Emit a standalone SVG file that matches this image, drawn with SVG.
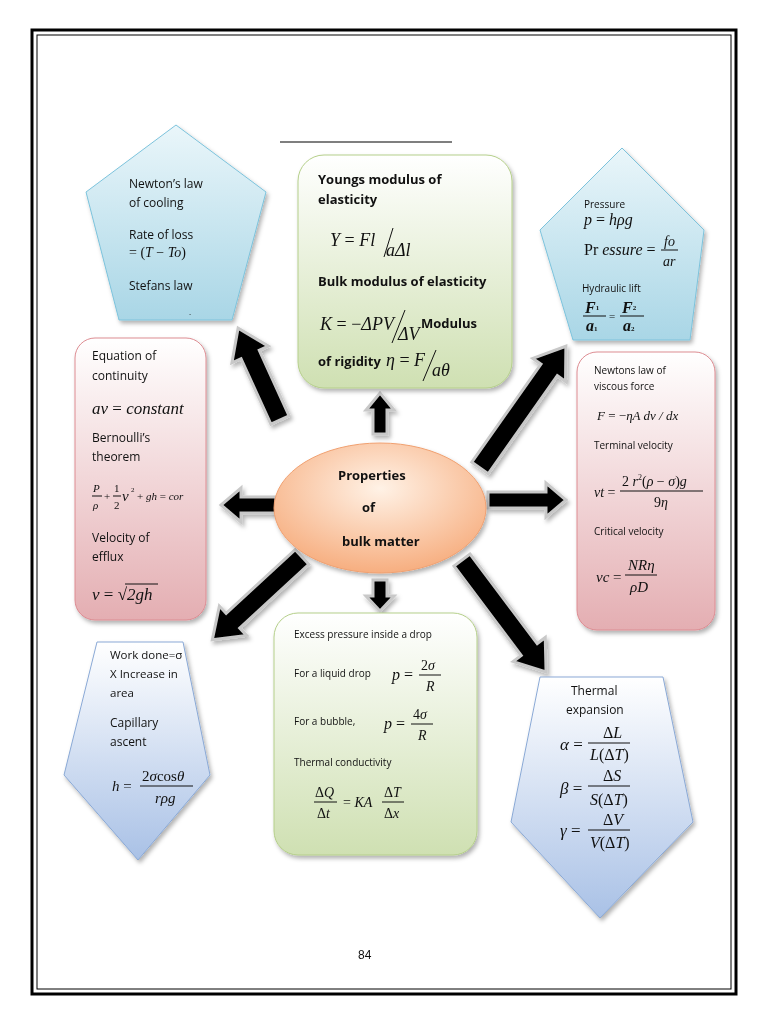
<svg xmlns="http://www.w3.org/2000/svg" width="768" height="1024" viewBox="0 0 768 1024">
<defs>
<linearGradient id="gb" x1="0" y1="0" x2="0" y2="1"><stop offset="0" stop-color="#eaf6fa"/><stop offset="1" stop-color="#a9d6e6"/></linearGradient>
<linearGradient id="gb2" x1="0" y1="0" x2="0" y2="1"><stop offset="0" stop-color="#ffffff"/><stop offset="1" stop-color="#a9c1e6"/></linearGradient>
<linearGradient id="gg" x1="0" y1="0" x2="0" y2="1"><stop offset="0" stop-color="#ffffff"/><stop offset="1" stop-color="#cfe0b2"/></linearGradient>
<linearGradient id="gp" x1="0" y1="0" x2="0" y2="1"><stop offset="0" stop-color="#ffffff"/><stop offset="1" stop-color="#e4aeb2"/></linearGradient>
<radialGradient id="go" cx="0.5" cy="0.35" r="0.7"><stop offset="0" stop-color="#fff2e6"/><stop offset="1" stop-color="#f6a978"/></radialGradient>
<filter id="sh" x="-10%" y="-10%" width="130%" height="130%"><feDropShadow dx="2" dy="3" stdDeviation="2" flood-color="#000" flood-opacity="0.3"/></filter>
</defs>
<style>
text{font-family:"Open Sans","DejaVu Sans",sans-serif;font-size:12px;fill:#111}
.b{font-weight:bold;font-size:13px}
.m{font-family:"Liberation Serif",serif;font-style:italic;font-size:16px}
.mn{font-family:"Liberation Serif",serif;font-size:16px}
.s{font-size:10px}
.arr{fill:#000;stroke:#c8c8c8;stroke-width:3;stroke-linejoin:miter}
.fl{stroke:#111;stroke-width:1}
</style>
<rect x="32" y="30" width="704" height="964" fill="none" stroke="#000" stroke-width="3"/>
<rect x="37" y="35" width="694" height="954" fill="none" stroke="#000" stroke-width="1"/>
<line x1="280" y1="142" x2="452" y2="142" stroke="#000" stroke-width="1.2"/>

<g id="connectors" filter="url(#sh)">
<path class="arr" transform="translate(280,420) rotate(-114.5)" d="M0,-10 L72,-10 L72,-20 L101,0 L72,20 L72,10 L0,10Z"/>
<path class="arr" transform="translate(380,434) rotate(-90)" d="M0,-7 L24,-7 L24,-14 L41,0 L24,14 L24,7 L0,7Z"/>
<path class="arr" transform="translate(480,468) rotate(-54.8)" d="M0,-10 L120,-10 L120,-20 L149,0 L120,20 L120,10 L0,10Z"/>
<path class="arr" transform="translate(276,505) rotate(180)" d="M0,-8 L35,-8 L35,-17 L55,0 L35,17 L35,8 L0,8Z"/>
<path class="arr" transform="translate(488,500) rotate(0)" d="M0,-8 L58,-8 L58,-17 L78,0 L58,17 L58,8 L0,8Z"/>
<path class="arr" transform="translate(302,557) rotate(137.3)" d="M0,-10 L94,-10 L94,-20 L122,0 L94,20 L94,10 L0,10Z"/>
<path class="arr" transform="translate(380,580) rotate(90)" d="M0,-7 L16,-7 L16,-14 L31,0 L16,14 L16,7 L0,7Z"/>
<path class="arr" transform="translate(462,560) rotate(53.1)" d="M0,-10 L112,-10 L112,-20 L140,0 L112,20 L112,10 L0,10Z"/>
</g>

<g id="center">
<ellipse cx="380" cy="508" rx="106" ry="65" fill="url(#go)" stroke="#f0a070" filter="url(#sh)"/>
<text class="b" x="338" y="480">Properties</text>
<text class="b" x="362" y="512">of</text>
<text class="b" x="342" y="546">bulk matter</text>
</g>

<g id="cooling">
<polygon points="176,125 266,192 232,320 119,320 86,192" fill="url(#gb)" stroke="#7cc3dc" filter="url(#sh)"/>
<text x="129" y="188">Newton’s law</text>
<text x="129" y="207">of cooling</text>
<text x="129" y="239">Rate of loss</text>
<text class="mn" x="129" y="257" style="font-size:14px">= (<tspan font-style="italic">T</tspan> − <tspan font-style="italic">To</tspan>)</text>
<text x="129" y="290">Stefans law</text>
<text x="189" y="315" style="font-size:8px">.</text>
</g>

<g id="elasticity">
<rect x="298" y="155" width="214" height="233" rx="26" fill="url(#gg)" stroke="#b5cf8a" filter="url(#sh)"/>
<text class="b" x="318" y="184">Youngs modulus of</text>
<text class="b" x="318" y="204">elasticity</text>
<text class="m" x="330" y="246" style="font-size:18px">Y <tspan font-style="normal">=</tspan> Fl</text>
<line x1="384" y1="257" x2="393" y2="228" class="fl"/>
<text class="m" x="386" y="256" style="font-size:18px">aΔl</text>
<text class="b" x="318" y="286">Bulk modulus of elasticity</text>
<text class="m" x="320" y="330" style="font-size:18px">K <tspan font-style="normal">= −</tspan>ΔPV</text>
<line x1="392" y1="343" x2="405" y2="310" class="fl"/>
<text class="m" x="398" y="340" style="font-size:18px">ΔV</text>
<text class="b" x="421" y="328">Modulus</text>
<text class="b" x="318" y="366">of rigidity</text>
<text class="m" x="386" y="366" style="font-size:18px">η <tspan font-style="normal">=</tspan> F</text>
<line x1="423" y1="381" x2="436" y2="350" class="fl"/>
<text class="m" x="432" y="376" style="font-size:18px">aθ</text>
</g>

<g id="pressure">
<polygon points="622,148 704,230 690,340 573,340 540,230" fill="url(#gb)" stroke="#7cc3dc" filter="url(#sh)"/>
<text class="s" x="584" y="208">Pressure</text>
<text class="m" x="584" y="225">p <tspan font-style="normal">=</tspan> hρg</text>
<text class="mn" x="584" y="255">Pr <tspan font-style="italic">essure</tspan> =</text>
<text class="m" x="664" y="246" style="font-size:14px">fo</text>
<line x1="661" y1="250" x2="678" y2="250" class="fl"/>
<text class="m" x="663" y="266" style="font-size:14px">ar</text>
<text class="s" x="582" y="292">Hydraulic lift</text>
<text class="m" x="585" y="313" style="font-weight:bold">F<tspan font-size="7" font-style="normal" dy="-3">1</tspan></text>
<line x1="583" y1="316" x2="606" y2="316" class="fl"/>
<text class="m" x="586" y="331" style="font-weight:bold">a<tspan font-size="7" font-style="normal">1</tspan></text>
<text class="mn" x="609" y="320" style="font-size:11px">=</text>
<text class="m" x="622" y="313" style="font-weight:bold">F<tspan font-size="7" font-style="normal" dy="-3">2</tspan></text>
<line x1="620" y1="316" x2="644" y2="316" class="fl"/>
<text class="m" x="623" y="331" style="font-weight:bold">a<tspan font-size="7" font-style="normal">2</tspan></text>
</g>

<g id="fluids">
<rect x="75" y="338" width="131" height="282" rx="20" fill="url(#gp)" stroke="#dd8c92" filter="url(#sh)"/>
<text x="92" y="360">Equation of</text>
<text x="92" y="380">continuity</text>
<text class="m" x="92" y="414" style="font-size:17px">av <tspan font-style="normal">=</tspan> constant</text>
<text x="92" y="442">Bernoulli’s</text>
<text x="92" y="461">theorem</text>
<text class="m" x="93" y="492" style="font-size:11px">P</text>
<line x1="92" y1="496" x2="102" y2="496" class="fl"/>
<text class="m" x="93" y="509" style="font-size:11px">ρ</text>
<text class="mn" x="104" y="500" style="font-size:11px">+</text>
<text class="mn" x="114" y="492" style="font-size:11px">1</text>
<line x1="113" y1="496" x2="121" y2="496" class="fl"/>
<text class="mn" x="114" y="509" style="font-size:11px">2</text>
<text class="m" x="122" y="501" style="font-size:15px">v</text>
<text class="mn" x="131" y="492" style="font-size:7px">2</text>
<text class="m" x="137" y="500" style="font-size:11px"><tspan font-style="normal">+</tspan> gh <tspan font-style="normal">=</tspan> cor</text>
<text x="92" y="542">Velocity of</text>
<text x="92" y="561">efflux</text>
<text class="m" x="92" y="600" style="font-size:17px">v <tspan font-style="normal">= √</tspan>2gh</text>
<line x1="125" y1="584" x2="158" y2="584" class="fl"/>
</g>

<g id="viscosity">
<rect x="577" y="352" width="138" height="278" rx="20" fill="url(#gp)" stroke="#dd8c92" filter="url(#sh)"/>
<text class="s" x="594" y="374">Newtons law of</text>
<text class="s" x="594" y="390">viscous force</text>
<text class="m" x="597" y="420" style="font-size:13px">F <tspan font-style="normal">= −</tspan>ηA dv / dx</text>
<text class="s" x="594" y="449">Terminal velocity</text>
<text class="m" x="594" y="497" style="font-size:14px">vt <tspan font-style="normal">=</tspan></text>
<text class="m" x="622" y="486" style="font-size:14px"><tspan font-style="normal">2</tspan> r<tspan font-size="8" font-style="normal" dy="-6">2</tspan><tspan dy="6" font-style="normal">(</tspan>ρ <tspan font-style="normal">−</tspan> σ<tspan font-style="normal">)</tspan>g</text>
<line x1="620" y1="491" x2="703" y2="491" class="fl"/>
<text class="m" x="654" y="507" style="font-size:14px"><tspan font-style="normal">9</tspan>η</text>
<text class="s" x="594" y="535">Critical velocity</text>
<text class="m" x="596" y="582" style="font-size:15px">vc <tspan font-style="normal">=</tspan></text>
<text class="m" x="628" y="570" style="font-size:15px">NRη</text>
<line x1="625" y1="575" x2="657" y2="575" class="fl"/>
<text class="m" x="630" y="592" style="font-size:15px">ρD</text>
</g>

<g id="surface">
<polygon points="97,642 183,642 210,775 138,860 64,775" fill="url(#gb2)" stroke="#8aa9d6" filter="url(#sh)"/>
<text x="110" y="659" style="font-size:11.5px">Work done=σ</text>
<text x="110" y="678" style="font-size:11.5px">X  Increase in</text>
<text x="110" y="697" style="font-size:11.5px">area</text>
<text x="110" y="727">Capillary</text>
<text x="110" y="746">ascent</text>
<text class="m" x="112" y="791" style="font-size:15px">h <tspan font-style="normal">=</tspan></text>
<text class="mn" x="142" y="781" style="font-size:15px">2<tspan font-style="italic">σ</tspan>cos<tspan font-style="italic">θ</tspan></text>
<line x1="140" y1="786" x2="193" y2="786" class="fl"/>
<text class="m" x="155" y="803" style="font-size:15px">rρg</text>
</g>

<g id="drops">
<rect x="274" y="613" width="203" height="242" rx="24" fill="url(#gg)" stroke="#b5cf8a" filter="url(#sh)"/>
<text class="s" x="294" y="638">Excess pressure inside a drop</text>
<text class="s" x="294" y="677">For a liquid drop</text>
<text class="m" x="392" y="680">p <tspan font-style="normal">=</tspan></text>
<text class="m" x="421" y="670" style="font-size:14px"><tspan font-style="normal">2</tspan>σ</text>
<line x1="419" y1="675" x2="441" y2="675" class="fl"/>
<text class="m" x="426" y="691" style="font-size:14px">R</text>
<text class="s" x="294" y="725">For a bubble,</text>
<text class="m" x="384" y="729">p <tspan font-style="normal">=</tspan></text>
<text class="m" x="413" y="719" style="font-size:14px"><tspan font-style="normal">4</tspan>σ</text>
<line x1="411" y1="724" x2="433" y2="724" class="fl"/>
<text class="m" x="418" y="740" style="font-size:14px">R</text>
<text class="s" x="294" y="766">Thermal conductivity</text>
<text class="mn" x="315" y="797" style="font-size:14px">Δ<tspan font-style="italic">Q</tspan></text>
<line x1="314" y1="802" x2="337" y2="802" class="fl"/>
<text class="mn" x="317" y="818" style="font-size:14px">Δ<tspan font-style="italic">t</tspan></text>
<text class="m" x="343" y="807" style="font-size:14px"><tspan font-style="normal">=</tspan> KA</text>
<text class="mn" x="384" y="797" style="font-size:14px">Δ<tspan font-style="italic">T</tspan></text>
<line x1="382" y1="802" x2="404" y2="802" class="fl"/>
<text class="mn" x="384" y="818" style="font-size:14px">Δ<tspan font-style="italic">x</tspan></text>
</g>

<g id="expansion">
<polygon points="540,677 663,677 693,822 600,918 511,822" fill="url(#gb2)" stroke="#8aa9d6" filter="url(#sh)"/>
<text x="571" y="695">Thermal</text>
<text x="566" y="714">expansion</text>
<text class="m" x="560" y="750" style="font-size:17px">α <tspan font-style="normal">=</tspan></text>
<text class="mn" x="603" y="738" style="font-size:16px">Δ<tspan font-style="italic">L</tspan></text>
<line x1="588" y1="743" x2="630" y2="743" class="fl"/>
<text class="m" x="590" y="760" style="font-size:16px">L<tspan font-style="normal">(Δ</tspan>T<tspan font-style="normal">)</tspan></text>
<text class="m" x="560" y="794" style="font-size:17px">β <tspan font-style="normal">=</tspan></text>
<text class="mn" x="603" y="781" style="font-size:16px">Δ<tspan font-style="italic">S</tspan></text>
<line x1="588" y1="786" x2="630" y2="786" class="fl"/>
<text class="m" x="590" y="805" style="font-size:16px">S<tspan font-style="normal">(Δ</tspan>T<tspan font-style="normal">)</tspan></text>
<text class="m" x="560" y="836" style="font-size:17px">γ <tspan font-style="normal">=</tspan></text>
<text class="mn" x="603" y="825" style="font-size:16px">Δ<tspan font-style="italic">V</tspan></text>
<line x1="588" y1="830" x2="630" y2="830" class="fl"/>
<text class="m" x="590" y="848" style="font-size:16px">V<tspan font-style="normal">(Δ</tspan>T<tspan font-style="normal">)</tspan></text>
</g>

<text x="358" y="959" style="font-family:'Liberation Sans',sans-serif;font-size:12px">84</text>
</svg>
